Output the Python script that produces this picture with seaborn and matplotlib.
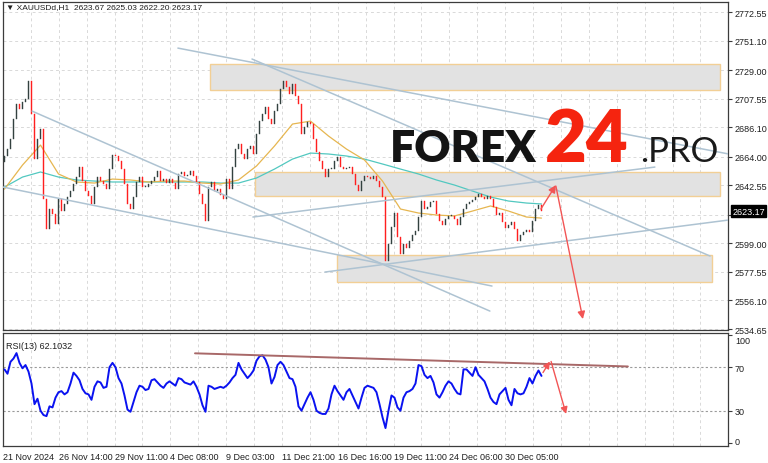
import numpy as np
import pandas as pd
import matplotlib
matplotlib.use("Agg")
import matplotlib.pyplot as plt
import matplotlib.transforms as mtrans
import seaborn as sns
from matplotlib.patches import Rectangle

# ---------------- data ----------------
first_open = 2660.0
close = [
    2664.5, 2669.8, 2677.3, 2692.3, 2703.5, 2699.8, 2705.1, 2707.3, 2720.8, 2696.1,
    2662.3, 2677.3, 2684.8, 2632.3, 2609.8, 2624.8, 2621.0, 2613.5, 2632.3, 2623.3,
    2628.5, 2633.8, 2638.3, 2643.5, 2648.8, 2656.3, 2645.8, 2638.3, 2634.5, 2628.5,
    2641.3, 2648.8, 2645.8, 2643.5, 2639.8, 2654.8, 2665.3, 2664.5, 2660.8, 2654.8,
    2643.5, 2628.5, 2624.8, 2633.8, 2645.0, 2648.8, 2641.3, 2641.3, 2643.5, 2645.8,
    2648.8, 2653.3, 2645.8, 2647.3, 2644.3, 2647.3, 2644.3, 2639.8, 2651.0, 2652.5,
    2649.5, 2650.3, 2653.3, 2649.5, 2645.0, 2636.0, 2628.5, 2615.8, 2641.3, 2645.0,
    2638.3, 2639.8, 2635.3, 2632.3, 2647.3, 2639.8, 2656.3, 2669.8, 2673.5, 2666.0,
    2662.3, 2669.8, 2672.0, 2666.0, 2681.0, 2690.8, 2696.1, 2701.3, 2692.3, 2688.5,
    2698.3, 2703.5, 2714.8, 2720.8, 2716.3, 2711.1, 2718.6, 2709.6, 2703.5, 2681.0,
    2686.3, 2690.0, 2688.5, 2677.3, 2667.5, 2660.8, 2654.8, 2648.8, 2654.8, 2654.8,
    2660.8, 2663.8, 2656.3, 2654.8, 2655.5, 2656.3, 2651.0, 2642.8, 2638.3, 2645.8,
    2649.5, 2648.8, 2647.3, 2649.5, 2645.8, 2641.3, 2633.8, 2585.8, 2598.5, 2611.3,
    2621.8, 2603.8, 2591.0, 2598.5, 2595.5, 2600.8, 2605.3, 2608.3, 2618.8, 2630.8,
    2624.8, 2626.3, 2630.0, 2630.8, 2621.0, 2615.8, 2612.8, 2617.3, 2619.5, 2619.5,
    2617.3, 2612.8, 2618.8, 2624.8, 2628.5, 2630.0, 2631.5, 2633.8, 2636.0, 2633.8,
    2632.3, 2634.5, 2632.3, 2626.3, 2620.3, 2621.8, 2615.0, 2610.5, 2612.8, 2615.0,
    2609.8, 2600.8, 2605.3, 2607.5, 2609.0, 2607.5, 2615.8, 2624.8, 2627.8, 2623.17,
]
ma_idx = [0, 6, 12, 18, 24, 30, 36, 42, 48, 54, 60, 66, 72, 78, 84, 90,
          96, 102, 108, 114, 120, 126, 132, 138, 144, 150, 156, 162, 168, 174, 179]
ma_fast = [2639.7, 2657.7, 2672.7, 2651.0, 2645.0, 2644.2, 2647.2, 2646.5, 2645.0, 2645.7,
           2645.7, 2644.2, 2643.5, 2646.5, 2657.0, 2672.0, 2688.5, 2690.7, 2679.5, 2669.7,
           2661.5, 2645.7, 2624.7, 2621.7, 2620.2, 2619.5, 2623.2, 2627.0, 2623.2, 2618.7, 2617.9]
ma_slow = [2641.2, 2648.7, 2652.5, 2648.7, 2646.5, 2645.7, 2645.0, 2645.0, 2645.0, 2645.0,
           2645.0, 2645.0, 2644.2, 2644.2, 2648.0, 2654.7, 2662.2, 2666.7, 2666.0, 2664.5,
           2662.2, 2658.5, 2654.7, 2651.0, 2646.5, 2642.7, 2638.2, 2633.7, 2630.7, 2629.2, 2628.5]
rsi = [
    68, 64, 75, 78, 83, 74, 69, 72, 66, 55,
    36, 41, 30, 26, 25, 34, 33, 42, 47, 48,
    45, 47, 55, 65, 62, 58, 50, 46, 45, 40,
    52, 57, 56, 51, 52, 70, 74, 70, 60, 55,
    44, 31, 29, 38, 47, 53, 52, 49, 50, 58,
    59, 56, 53, 51, 55, 57, 55, 53, 60, 59,
    56, 55, 54, 57, 52, 45, 35, 29, 53, 52,
    50, 51, 52, 51, 53, 56, 60, 63, 74, 68,
    64, 60, 63, 67, 76, 80, 81, 77, 70, 55,
    61, 72, 75, 72, 66, 60, 59, 52, 34, 30,
    36, 42, 47, 40, 30, 28, 27, 27, 32, 45,
    53, 48, 44, 40, 47, 50, 44, 38, 32, 42,
    51, 53, 52, 51, 47, 36, 24, 14, 30, 44,
    42, 33, 30, 42, 47, 48, 50, 55, 72, 71,
    63, 60, 62, 56, 45, 42, 47, 53, 57, 55,
    50, 46, 45, 68, 68, 65, 62, 70, 63, 60,
    57, 50, 42, 38, 36, 45, 48, 51, 40, 35,
    50, 46, 45, 46, 52, 60, 55, 62, 67, 62,
]
price_ticks = [2534.65, 2556.10, 2577.55, 2599.00, 2620.45, 2642.55, 2664.00,
               2686.10, 2707.55, 2729.00, 2751.10, 2772.55]
price_labels = ["2534.65", "2556.10", "2577.55", "2599.00", "", "2642.55", "2664.00",
                "2686.10", "2707.55", "2729.00", "2751.10", "2772.55"]
rsi_ticks = [0, 30, 70, 100]
date_labels = ["21 Nov 2024", "26 Nov 14:00", "29 Nov 11:00", "4 Dec 08:00", "9 Dec 03:00",
               "11 Dec 21:00", "16 Dec 16:00", "19 Dec 11:00", "24 Dec 06:00", "30 Dec 05:00"]
# zones: (bar start, bar end, price low, price high)
zones = [(68.5, 238.5, 2714.0, 2733.5),
         (83.5, 238.5, 2634.4, 2652.5),
         (110.8, 235.8, 2569.9, 2590.2)]
# trend lines: ((bar, price), (bar, price))
trendlines = [((57.8, 2745.5), (250.2, 2662.2)),
              ((82.5, 2737.3), (235.2, 2589.4)),
              ((9.2, 2698.2), (161.8, 2548.1)),
              ((-0.5, 2641.2), (162.5, 2566.9)),
              ((82.8, 2618.7), (216.8, 2656.2)),
              ((106.8, 2577.4), (241.2, 2616.4))]
forecast = [((178.8, 2624.7), (183.8, 2642.7)), ((183.8, 2641.9), (192.8, 2542.1))]
rsi_line = ((63.5, 82.8), (207.8, 70.7))
rsi_forecast = [((179.5, 65.1), (181.8, 75.3)), ((182.2, 75.3), (187.2, 27.0))]
last_price = 2623.17

# ---------------- figure ----------------
sns.set_style("white")
plt.rcParams['font.family'] = ['Liberation Sans', 'DejaVu Sans']
W, H = 768, 464
fig = plt.figure(figsize=(W / 100, H / 100), dpi=100)


def rect(x0, y0, x1, y1):
    return [x0 / W, 1 - y1 / H, (x1 - x0) / W, (y1 - y0) / H]


ax = fig.add_axes(rect(3, 3, 728, 331))
axr = fig.add_axes(rect(3, 334, 728, 447))

XMIN, XMAX = -0.5, 241.17
grid_col = '#d9d9d9'
frame_col = '#3c3c3c'
tl_col = '#aec3d2'

n = len(close)
idx = np.arange(n)
opens = np.array([first_open] + close[:-1])
closes = np.array(close)
df = pd.DataFrame({'bar': idx, 'open': opens, 'close': closes})
df['up'] = df['close'] >= df['open']

for a in (ax, axr):
    a.set_xlim(XMIN, XMAX)
    for s in a.spines.values():
        s.set_color(frame_col)
        s.set_linewidth(0.9)
    for gx in np.arange(XMIN, XMAX, 9.3)[1:]:
        a.axvline(gx, color=grid_col, lw=0.7, ls=(0, (3, 3)), zorder=0)

# main panel
ax.set_ylim(2533.9, 2780.1)
for p in price_ticks:
    ax.axhline(p, color=grid_col, lw=0.7, ls=(0, (3, 3)), zorder=0)

for (b0, b1, lo, hi) in zones:
    ax.add_patch(Rectangle((b0, lo), b1 - b0, hi - lo, facecolor='#e2e2e2',
                           edgecolor='#f2cf95', lw=1.0, zorder=1))

ma_df = pd.DataFrame({'bar': ma_idx, 'fast': ma_fast, 'slow': ma_slow})
sns.lineplot(data=ma_df, x='bar', y='slow', ax=ax, color='#52c8c0', lw=0.9, zorder=2)
sns.lineplot(data=ma_df, x='bar', y='fast', ax=ax, color='#e6b650', lw=0.9, zorder=2)

colors = np.where(df['up'], '#33413f', '#ff1f1f')
bot = np.minimum(df['open'], df['close'])
hgt = np.abs(df['close'] - df['open']).clip(lower=0.6)
ax.bar(df['bar'], hgt, bottom=bot, width=0.6, color=colors, edgecolor=colors,
       linewidth=0.3, zorder=3)

for (p0, p1) in trendlines:
    ax.plot([p0[0], p1[0]], [p0[1], p1[1]], color=tl_col, lw=1.1, zorder=4)

for (p0, p1) in forecast:
    ax.annotate('', xy=p1, xytext=p0,
                arrowprops=dict(arrowstyle='-|>', color='#f25555', lw=1.0,
                                mutation_scale=11, shrinkA=0, shrinkB=0), zorder=5)

ax.set_yticks(price_ticks)
ax.set_yticklabels(price_labels)
ax.yaxis.tick_right()
ax.tick_params(axis='y', direction='out', length=3, width=0.8, color=frame_col,
               labelsize=6.5, pad=2, labelcolor='#202020')
ax.set_xticks([])
ax.set_xlabel('')
ax.set_ylabel('')

ax.annotate(f"{last_price:.2f}", xy=(1.0, last_price), xycoords=('axes fraction', 'data'),
            xytext=(3, 0), textcoords='offset points', ha='left', va='center',
            fontsize=6.5, color='white',
            bbox=dict(boxstyle='square,pad=0.15', fc='black', ec='black'),
            annotation_clip=False, zorder=10)

# RSI panel
axr.set_ylim(-2.5, 101.5)
rsi_df = pd.DataFrame({'bar': np.arange(len(rsi)), 'rsi': rsi})
sns.lineplot(data=rsi_df, x='bar', y='rsi', ax=axr, color='#0a12f0', lw=1.4, zorder=3)
for lvl in (30, 70):
    axr.axhline(lvl, color='#9a9a9a', lw=0.8, ls=(0, (2, 2)), zorder=1)
axr.plot([rsi_line[0][0], rsi_line[1][0]], [rsi_line[0][1], rsi_line[1][1]],
         color='#a86868', lw=1.4, zorder=4)
for (p0, p1) in rsi_forecast:
    axr.annotate('', xy=p1, xytext=p0,
                 arrowprops=dict(arrowstyle='-|>', color='#f25555', lw=1.0,
                                 mutation_scale=10, shrinkA=0, shrinkB=0), zorder=5)
axr.set_yticks(rsi_ticks)
axr.set_yticklabels([str(t) for t in rsi_ticks])
axr.yaxis.tick_right()
axr.tick_params(axis='y', direction='out', length=3, width=0.8, color=frame_col,
                labelsize=6.5, pad=2, labelcolor='#202020')
# keep the end labels inside the panel, as in the reference
for lab, dy in zip(axr.get_yticklabels(), [3, 0, 0, -5]):
    lab.set_transform(lab.get_transform() +
                      mtrans.ScaledTranslation(0, dy / 100, fig.dpi_scale_trans))
date_pos = XMIN + 18.6 * np.arange(len(date_labels))
axr.set_xticks(date_pos)
axr.set_xticklabels(date_labels, ha='left')
axr.tick_params(axis='x', direction='out', length=3, width=0.8, color=frame_col,
                labelsize=6.5, pad=1, labelcolor='#202020')
axr.set_xlabel('')
axr.set_ylabel('')
axr.text(0.004, 0.93, f"RSI(13) {62.1032}", transform=axr.transAxes, fontsize=6.5,
         va='top', ha='left', color='#202020')

# header
fig.text(6 / W, 1 - 8 / H, "\u25BC XAUUSDd,H1  2623.67 2625.03 2622.20 2623.17",
         fontsize=6.0, va='center', ha='left', color='#202020',
         family=['Liberation Sans', 'DejaVu Sans'])

# logo watermark
base = 1 - 162 / H
fig.text(390 / W, base, "FOREX", fontsize=32, fontweight='heavy', color='#141414',
         family=['Lato', 'DejaVu Sans'], va='baseline', ha='left', zorder=30)
fig.text(545 / W, base, "24", fontsize=52, fontweight='heavy', color='#f5240f',
         family=['Lato', 'DejaVu Sans'], va='baseline', ha='left', zorder=30)
fig.text(640 / W, base, ".PRO", fontsize=25, fontweight='normal', color='#1a1a1a',
         family=['Lato', 'DejaVu Sans'], va='baseline', ha='left', zorder=30)

fig.savefig("out.png", dpi=100)
